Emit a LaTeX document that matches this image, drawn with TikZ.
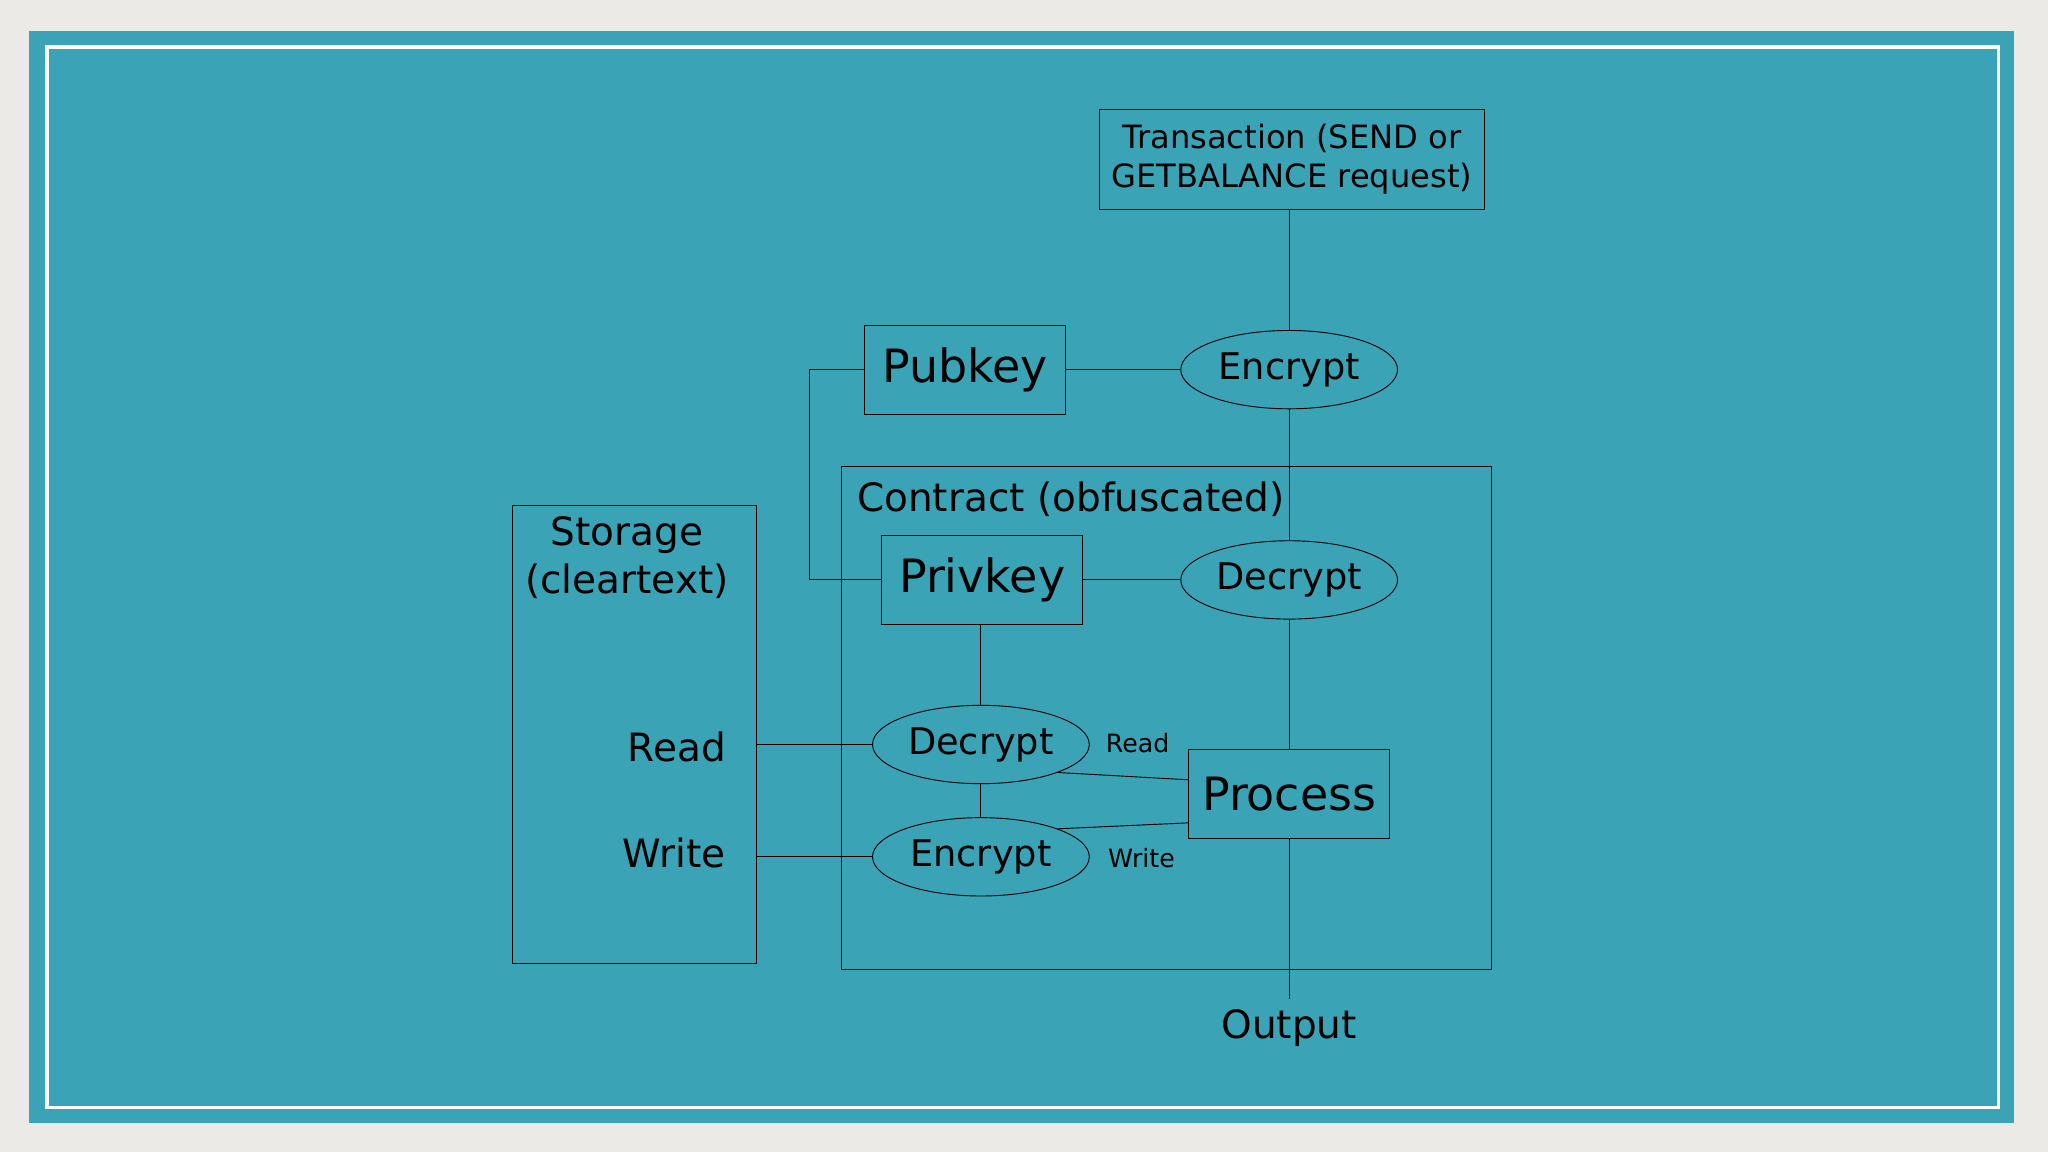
\documentclass[tikz,border=0pt]{standalone}
\usepackage{fontspec}
\setmainfont{DejaVu Sans}
\usetikzlibrary{shapes.geometric,positioning}
\definecolor{teal}{HTML}{3AA3B5}
\definecolor{paper}{HTML}{EBEAE6}
\tikzset{
  box/.style={draw,thin,minimum width=3.08cm,minimum height=1.36cm,font=\fontsize{20}{24}\selectfont},
  oval/.style={draw,thin,ellipse,minimum width=3.32cm,minimum height=1.2cm,inner sep=0pt,font=\fontsize{16}{20}\selectfont},
  lbl/.style={font=\fontsize{17}{21}\selectfont},
  small/.style={font=\fontsize{11}{13}\selectfont}
}
\begin{document}
\begin{tikzpicture}[x=0.02cm,y=-0.02cm]
\fill[paper] (0,0) rectangle (1568,882);
\useasboundingbox (0,0) rectangle (1568,882);
\fill[teal] (22,24) rectangle (1542,860);
\draw[white,line width=1.5pt] (36,36) rectangle (1530,848);

% frames
\draw (644,357) rectangle (1142,742);
\node[lbl,anchor=west] (ctitle) at (650,382) {Contract (obfuscated)};
\draw (392,387) rectangle (579,738);
\node[lbl,align=center] (stitle) at (480,427) {Storage\\(cleartext)};
\node[lbl,anchor=east] (rd) at (562,572) {Read};
\node[lbl,anchor=east] (wr) at (562,653) {Write};
\coordinate (rdend) at (579,570);
\coordinate (wrend) at (579,656);

% nodes
\node[draw,align=center,minimum width=5.9cm,minimum height=1.52cm,font=\fontsize{14}{17}\selectfont] (trans) at (989,122) {Transaction (SEND or\\GETBALANCE request)};
\node[box] (pub) at (739,283) {Pubkey};
\node[oval] (enc1) at (987,283) {Encrypt};
\node[box] (priv) at (752,444) {Privkey};
\node[oval] (dec1) at (987,444) {Decrypt};
\node[oval] (dec2) at (751,570) {Decrypt};
\node[oval] (enc2) at (751,656) {Encrypt};
\node[box] (proc) at (987,608) {Process};
\node[lbl] (out) at (987,787) {Output};
\coordinate (outend) at (987,765);
\coordinate (bend1) at (620,283);
\coordinate (bend2) at (620,444);

% connectors
\draw (trans.south -| enc1.north) -- (enc1);
\draw (enc1) -- (dec1);
\draw (pub) -- (enc1);
\draw (pub.west) -- (bend1) -- (bend2) -- (priv.west);
\draw (priv) -- (dec1);
\draw (priv.south -| dec2.north) -- (dec2.north);
\draw (dec2) -- (enc2);
\draw (dec1) -- (proc);
\draw (rdend) -- (dec2.west);
\draw (wrend) -- (enc2.west);
\draw (dec2.-20) -- (proc.west |- 0,597);
\draw (enc2.20) -- (proc.west |- 0,630);
\node[small] (rdl) at (871,569) {Read};
\node[small] (wrl) at (874,657) {Write};
\draw (proc) -- (outend);
\end{tikzpicture}
\end{document}
